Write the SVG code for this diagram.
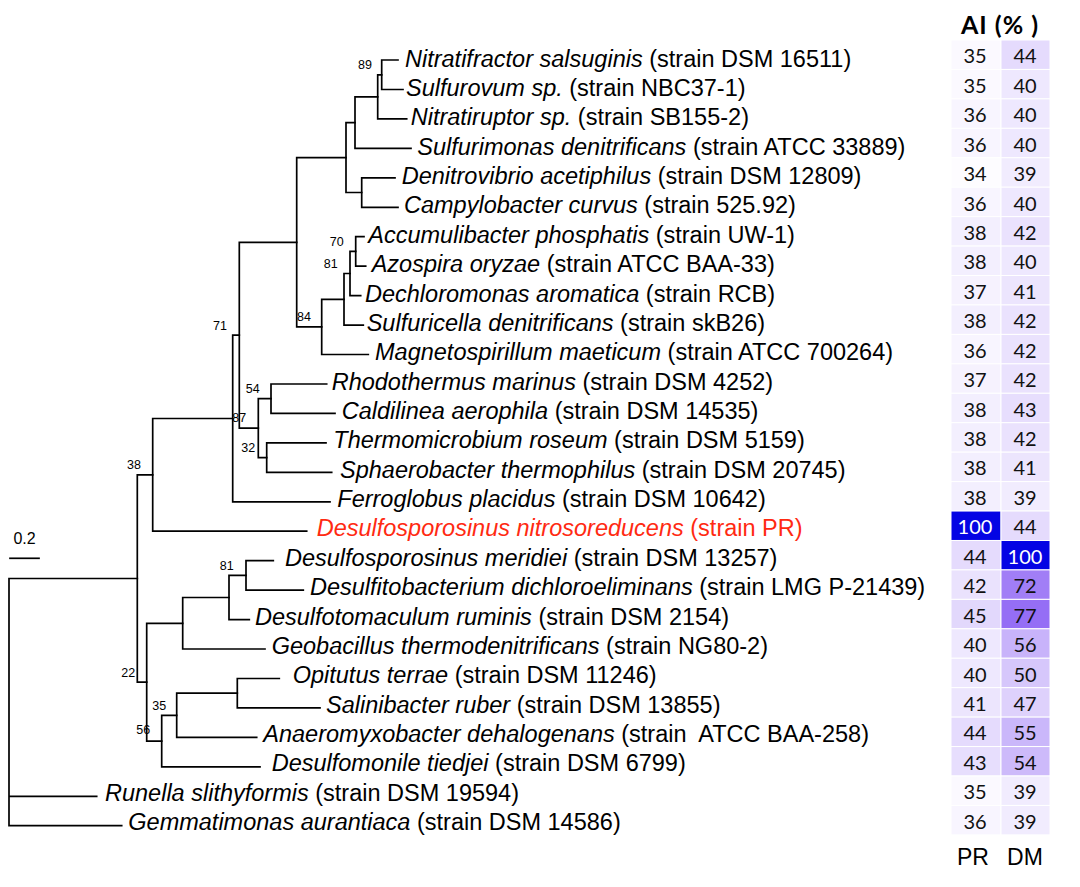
<svg xmlns="http://www.w3.org/2000/svg" width="1080" height="887" viewBox="0 0 1080 887">
<style>
.br{fill:none;stroke:#000;stroke-width:1.7;stroke-linecap:square}
.lb{font-family:"Liberation Sans",Arial,sans-serif;font-size:23.5px;fill:#000}
.lb .i{font-style:italic}
.red{fill:#ff2a12}
.bs{font-family:"Liberation Sans",Arial,sans-serif;font-size:12.5px;fill:#000;text-anchor:middle}
.hv{font-family:Lato,"Open Sans",sans-serif;font-size:20px;fill:#111;text-anchor:middle}
.hw{fill:#fff}
.cell{stroke:#fff;stroke-width:1}
.hd{font-family:Lato,"Open Sans",sans-serif;font-size:25px;font-weight:bold;fill:#000;letter-spacing:1px}
.ax{font-family:"Liberation Sans",Arial,sans-serif;font-size:23px;fill:#000;text-anchor:middle}
</style>
<rect width="1080" height="887" fill="#fff"/>
<g id="branches">
<path class="br" d="M381.7 60V89.5M381.7 60H398M381.7 89.5H403"/>
<path class="br" d="M377.7 74.8V118.9H406.7M377.7 74.8H381.7"/>
<path class="br" d="M355 96.8V148.4H411M355 96.8H377.7"/>
<path class="br" d="M361.7 177.8V207.3H398M361.7 177.8H395"/>
<path class="br" d="M346 122.6V192.5H361.7M346 122.6H355"/>
<path class="br" d="M355.7 236.7V266.2H365.7M355.7 236.7H364"/>
<path class="br" d="M350 251.4V295.6H360.7M350 251.4H355.7"/>
<path class="br" d="M344 273.5V325.1H363.3M344 273.5H350"/>
<path class="br" d="M321.7 299.3V354.5H368.3M321.7 299.3H344"/>
<path class="br" d="M296.7 157.6V326.9H321.7M296.7 157.6H346"/>
<path class="br" d="M271 384V413.4H335M271 384H326.7"/>
<path class="br" d="M266.7 442.9V472.3H331.7M266.7 442.9H326"/>
<path class="br" d="M258.3 398.7V457.6H266.7M258.3 398.7H271"/>
<path class="br" d="M239.3 242.3V428.1H258.3M239.3 242.3H296.7"/>
<path class="br" d="M232.7 335.2V501.8H330M232.7 335.2H239.3"/>
<path class="br" d="M152.7 418.5V531.2H306.7M152.7 418.5H232.7"/>
<path class="br" d="M246 560.7V590.1H303.3M246 560.7H273.3"/>
<path class="br" d="M229 575.4V619.6H249.3M229 575.4H246"/>
<path class="br" d="M182.7 597.5V649H265M182.7 597.5H229"/>
<path class="br" d="M237.3 678.5V707.9H320M237.3 678.5H279.3"/>
<path class="br" d="M176.7 693.2V737.4H256.7M176.7 693.2H237.3"/>
<path class="br" d="M161.7 715.3V766.8H260M161.7 715.3H176.7"/>
<path class="br" d="M146.7 623.3V741.1H161.7M146.7 623.3H182.7"/>
<path class="br" d="M137.3 474.9V682.2H146.7M137.3 474.9H152.7"/>
<path class="br" d="M9 578.5V825.7H121.7M9 578.5H137.3M9 796.3H96.7"/>
</g>
<g id="support">
<text class="bs" x="365" y="69">89</text>
<text class="bs" x="336.7" y="245.7">70</text>
<text class="bs" x="330.7" y="268">81</text>
<text class="bs" x="304" y="320.7">84</text>
<text class="bs" x="220" y="329.5">71</text>
<text class="bs" x="252.7" y="393">54</text>
<text class="bs" x="239.3" y="422.3">87</text>
<text class="bs" x="248.3" y="452">32</text>
<text class="bs" x="134" y="469">38</text>
<text class="bs" x="226.7" y="569.5">81</text>
<text class="bs" x="128.3" y="676.7">22</text>
<text class="bs" x="159.3" y="709.7">35</text>
<text class="bs" x="143.3" y="734">56</text>
</g>
<g id="scalebar">
<path class="br" d="M10 558.3H39"/>
<text x="24.5" y="544" style="font-family:'Liberation Sans',Arial,sans-serif;font-size:16px;text-anchor:middle">0.2</text>
</g>
<g id="leaf1"><text class="lb" x="405" y="66.5"><tspan class="i">Nitratifractor salsuginis</tspan> (strain DSM 16511)</text></g>
<g id="leaf2"><text class="lb" x="406" y="95.9"><tspan class="i">Sulfurovum sp.</tspan> (strain NBC37-1)</text></g>
<g id="leaf3"><text class="lb" x="410.7" y="125.2"><tspan class="i">Nitratiruptor sp.</tspan> (strain SB155-2)</text></g>
<g id="leaf4"><text class="lb" x="417.3" y="154.6"><tspan class="i">Sulfurimonas denitrificans</tspan> (strain ATCC 33889)</text></g>
<g id="leaf5"><text class="lb" x="401.7" y="184"><tspan class="i">Denitrovibrio acetiphilus</tspan> (strain DSM 12809)</text></g>
<g id="leaf6"><text class="lb" x="404" y="213.4"><tspan class="i">Campylobacter curvus</tspan> (strain 525.92)</text></g>
<g id="leaf7"><text class="lb" x="368.3" y="242.7"><tspan class="i">Accumulibacter phosphatis</tspan> (strain UW-1)</text></g>
<g id="leaf8"><text class="lb" x="371.7" y="272.1"><tspan class="i">Azospira oryzae</tspan> (strain ATCC BAA-33)</text></g>
<g id="leaf9"><text class="lb" x="365" y="301.5"><tspan class="i">Dechloromonas aromatica</tspan> (strain RCB)</text></g>
<g id="leaf10"><text class="lb" x="366.7" y="330.8"><tspan class="i">Sulfuricella denitrificans</tspan> (strain skB26)</text></g>
<g id="leaf11"><text class="lb" x="375" y="360.2"><tspan class="i">Magnetospirillum maeticum</tspan> (strain ATCC 700264)</text></g>
<g id="leaf12"><text class="lb" x="331.7" y="389.6"><tspan class="i">Rhodothermus marinus</tspan> (strain DSM 4252)</text></g>
<g id="leaf13"><text class="lb" x="341.7" y="418.9"><tspan class="i">Caldilinea aerophila</tspan> (strain DSM 14535)</text></g>
<g id="leaf14"><text class="lb" x="333.3" y="448.3"><tspan class="i">Thermomicrobium roseum</tspan> (strain DSM 5159)</text></g>
<g id="leaf15"><text class="lb" x="340" y="477.7"><tspan class="i">Sphaerobacter thermophilus</tspan> (strain DSM 20745)</text></g>
<g id="leaf16"><text class="lb" x="337.3" y="507.1"><tspan class="i">Ferroglobus placidus</tspan> (strain DSM 10642)</text></g>
<g id="leaf17"><text class="lb red" x="316.7" y="536.4"><tspan class="i">Desulfosporosinus nitrosoreducens</tspan> (strain PR)</text></g>
<g id="leaf18"><text class="lb" x="285" y="565.8"><tspan class="i">Desulfosporosinus meridiei</tspan> (strain DSM 13257)</text></g>
<g id="leaf19"><text class="lb" x="310" y="595.2"><tspan class="i">Desulfitobacterium dichloroeliminans</tspan> (strain LMG P-21439)</text></g>
<g id="leaf20"><text class="lb" x="255" y="624.5"><tspan class="i">Desulfotomaculum ruminis</tspan> (strain DSM 2154)</text></g>
<g id="leaf21"><text class="lb" x="271.7" y="653.9"><tspan class="i">Geobacillus thermodenitrificans</tspan> (strain NG80-2)</text></g>
<g id="leaf22"><text class="lb" x="292.7" y="683.3"><tspan class="i">Opitutus terrae</tspan> (strain DSM 11246)</text></g>
<g id="leaf23"><text class="lb" x="326" y="712.6"><tspan class="i">Salinibacter ruber</tspan> (strain DSM 13855)</text></g>
<g id="leaf24"><text class="lb" x="263.3" y="742" xml:space="preserve" style="white-space:pre"><tspan class="i">Anaeromyxobacter dehalogenans</tspan> (strain  ATCC BAA-258)</text></g>
<g id="leaf25"><text class="lb" x="271.7" y="771.4"><tspan class="i">Desulfomonile tiedjei</tspan> (strain DSM 6799)</text></g>
<g id="leaf26"><text class="lb" x="105" y="800.8"><tspan class="i">Runella slithyformis</tspan> (strain DSM 19594)</text></g>
<g id="leaf27"><text class="lb" x="128.3" y="830.1"><tspan class="i">Gemmatimonas aurantiaca</tspan> (strain DSM 14586)</text></g>
<g id="heatmap">
<text class="hd" x="961" y="34" xml:space="preserve" style="white-space:pre">AI (% )</text>
<g id="h1"><rect class="cell" x="951" y="40" width="50" height="29.44" fill="rgb(251,249,255)"/><rect class="cell" x="1001" y="40" width="49" height="29.44" fill="rgb(229,219,253)"/><text class="hv" x="975" y="63.3">35</text><text class="hv" x="1025" y="63.3">44</text></g>
<g id="h2"><rect class="cell" x="951" y="69.44" width="50" height="29.44" fill="rgb(251,249,255)"/><rect class="cell" x="1001" y="69.44" width="49" height="29.44" fill="rgb(238,232,254)"/><text class="hv" x="975" y="92.74">35</text><text class="hv" x="1025" y="92.74">40</text></g>
<g id="h3"><rect class="cell" x="951" y="98.88" width="50" height="29.44" fill="rgb(248,245,255)"/><rect class="cell" x="1001" y="98.88" width="49" height="29.44" fill="rgb(238,232,254)"/><text class="hv" x="975" y="122.18">36</text><text class="hv" x="1025" y="122.18">40</text></g>
<g id="h4"><rect class="cell" x="951" y="128.32" width="50" height="29.44" fill="rgb(248,245,255)"/><rect class="cell" x="1001" y="128.32" width="49" height="29.44" fill="rgb(238,232,254)"/><text class="hv" x="975" y="151.62">36</text><text class="hv" x="1025" y="151.62">40</text></g>
<g id="h5"><rect class="cell" x="951" y="157.76" width="50" height="29.44" fill="rgb(253,252,255)"/><rect class="cell" x="1001" y="157.76" width="49" height="29.44" fill="rgb(241,236,254)"/><text class="hv" x="975" y="181.06">34</text><text class="hv" x="1025" y="181.06">39</text></g>
<g id="h6"><rect class="cell" x="951" y="187.2" width="50" height="29.44" fill="rgb(248,245,255)"/><rect class="cell" x="1001" y="187.2" width="49" height="29.44" fill="rgb(238,232,254)"/><text class="hv" x="975" y="210.5">36</text><text class="hv" x="1025" y="210.5">40</text></g>
<g id="h7"><rect class="cell" x="951" y="216.64" width="50" height="29.44" fill="rgb(243,239,254)"/><rect class="cell" x="1001" y="216.64" width="49" height="29.44" fill="rgb(234,226,253)"/><text class="hv" x="975" y="239.94">38</text><text class="hv" x="1025" y="239.94">42</text></g>
<g id="h8"><rect class="cell" x="951" y="246.08" width="50" height="29.44" fill="rgb(243,239,254)"/><rect class="cell" x="1001" y="246.08" width="49" height="29.44" fill="rgb(238,232,254)"/><text class="hv" x="975" y="269.38">38</text><text class="hv" x="1025" y="269.38">40</text></g>
<g id="h9"><rect class="cell" x="951" y="275.52" width="50" height="29.44" fill="rgb(246,242,254)"/><rect class="cell" x="1001" y="275.52" width="49" height="29.44" fill="rgb(236,229,253)"/><text class="hv" x="975" y="298.82">37</text><text class="hv" x="1025" y="298.82">41</text></g>
<g id="h10"><rect class="cell" x="951" y="304.96" width="50" height="29.44" fill="rgb(243,239,254)"/><rect class="cell" x="1001" y="304.96" width="49" height="29.44" fill="rgb(234,226,253)"/><text class="hv" x="975" y="328.26">38</text><text class="hv" x="1025" y="328.26">42</text></g>
<g id="h11"><rect class="cell" x="951" y="334.4" width="50" height="29.44" fill="rgb(248,245,255)"/><rect class="cell" x="1001" y="334.4" width="49" height="29.44" fill="rgb(234,226,253)"/><text class="hv" x="975" y="357.7">36</text><text class="hv" x="1025" y="357.7">42</text></g>
<g id="h12"><rect class="cell" x="951" y="363.84" width="50" height="29.44" fill="rgb(246,242,254)"/><rect class="cell" x="1001" y="363.84" width="49" height="29.44" fill="rgb(234,226,253)"/><text class="hv" x="975" y="387.14">37</text><text class="hv" x="1025" y="387.14">42</text></g>
<g id="h13"><rect class="cell" x="951" y="393.28" width="50" height="29.44" fill="rgb(243,239,254)"/><rect class="cell" x="1001" y="393.28" width="49" height="29.44" fill="rgb(231,222,253)"/><text class="hv" x="975" y="416.58">38</text><text class="hv" x="1025" y="416.58">43</text></g>
<g id="h14"><rect class="cell" x="951" y="422.72" width="50" height="29.44" fill="rgb(243,239,254)"/><rect class="cell" x="1001" y="422.72" width="49" height="29.44" fill="rgb(234,226,253)"/><text class="hv" x="975" y="446.02">38</text><text class="hv" x="1025" y="446.02">42</text></g>
<g id="h15"><rect class="cell" x="951" y="452.16" width="50" height="29.44" fill="rgb(243,239,254)"/><rect class="cell" x="1001" y="452.16" width="49" height="29.44" fill="rgb(236,229,253)"/><text class="hv" x="975" y="475.46">38</text><text class="hv" x="1025" y="475.46">41</text></g>
<g id="h16"><rect class="cell" x="951" y="481.6" width="50" height="29.44" fill="rgb(243,239,254)"/><rect class="cell" x="1001" y="481.6" width="49" height="29.44" fill="rgb(241,236,254)"/><text class="hv" x="975" y="504.9">38</text><text class="hv" x="1025" y="504.9">39</text></g>
<g id="h17"><rect class="cell" x="951" y="511.04" width="50" height="29.44" fill="#0404e4"/><rect class="cell" x="1001" y="511.04" width="49" height="29.44" fill="rgb(229,219,253)"/><text class="hv hw" x="975" y="534.34">100</text><text class="hv" x="1025" y="534.34">44</text></g>
<g id="h18"><rect class="cell" x="951" y="540.48" width="50" height="29.44" fill="rgb(229,219,253)"/><rect class="cell" x="1001" y="540.48" width="49" height="29.44" fill="#0404e4"/><text class="hv" x="975" y="563.78">44</text><text class="hv hw" x="1025" y="563.78">100</text></g>
<g id="h19"><rect class="cell" x="951" y="569.92" width="50" height="29.44" fill="rgb(234,226,253)"/><rect class="cell" x="1001" y="569.92" width="49" height="29.44" fill="rgb(161,126,246)"/><text class="hv" x="975" y="593.22">42</text><text class="hv" x="1025" y="593.22">72</text></g>
<g id="h20"><rect class="cell" x="951" y="599.36" width="50" height="29.44" fill="rgb(226,216,252)"/><rect class="cell" x="1001" y="599.36" width="49" height="29.44" fill="rgb(149,110,245)"/><text class="hv" x="975" y="622.66">45</text><text class="hv" x="1025" y="622.66">77</text></g>
<g id="h21"><rect class="cell" x="951" y="628.8" width="50" height="29.44" fill="rgb(238,232,254)"/><rect class="cell" x="1001" y="628.8" width="49" height="29.44" fill="rgb(200,179,250)"/><text class="hv" x="975" y="652.1">40</text><text class="hv" x="1025" y="652.1">56</text></g>
<g id="h22"><rect class="cell" x="951" y="658.24" width="50" height="29.44" fill="rgb(238,232,254)"/><rect class="cell" x="1001" y="658.24" width="49" height="29.44" fill="rgb(214,199,251)"/><text class="hv" x="975" y="681.54">40</text><text class="hv" x="1025" y="681.54">50</text></g>
<g id="h23"><rect class="cell" x="951" y="687.68" width="50" height="29.44" fill="rgb(236,229,253)"/><rect class="cell" x="1001" y="687.68" width="49" height="29.44" fill="rgb(222,209,252)"/><text class="hv" x="975" y="710.98">41</text><text class="hv" x="1025" y="710.98">47</text></g>
<g id="h24"><rect class="cell" x="951" y="717.12" width="50" height="29.44" fill="rgb(229,219,253)"/><rect class="cell" x="1001" y="717.12" width="49" height="29.44" fill="rgb(202,183,250)"/><text class="hv" x="975" y="740.42">44</text><text class="hv" x="1025" y="740.42">55</text></g>
<g id="h25"><rect class="cell" x="951" y="746.56" width="50" height="29.44" fill="rgb(231,222,253)"/><rect class="cell" x="1001" y="746.56" width="49" height="29.44" fill="rgb(205,186,250)"/><text class="hv" x="975" y="769.86">43</text><text class="hv" x="1025" y="769.86">54</text></g>
<g id="h26"><rect class="cell" x="951" y="776" width="50" height="29.44" fill="rgb(251,249,255)"/><rect class="cell" x="1001" y="776" width="49" height="29.44" fill="rgb(241,236,254)"/><text class="hv" x="975" y="799.3">35</text><text class="hv" x="1025" y="799.3">39</text></g>
<g id="h27"><rect class="cell" x="951" y="805.44" width="50" height="29.44" fill="rgb(248,245,255)"/><rect class="cell" x="1001" y="805.44" width="49" height="29.44" fill="rgb(241,236,254)"/><text class="hv" x="975" y="828.74">36</text><text class="hv" x="1025" y="828.74">39</text></g>
<text class="ax" x="973" y="865">PR</text>
<text class="ax" x="1025" y="865">DM</text>
</g>
</svg>
